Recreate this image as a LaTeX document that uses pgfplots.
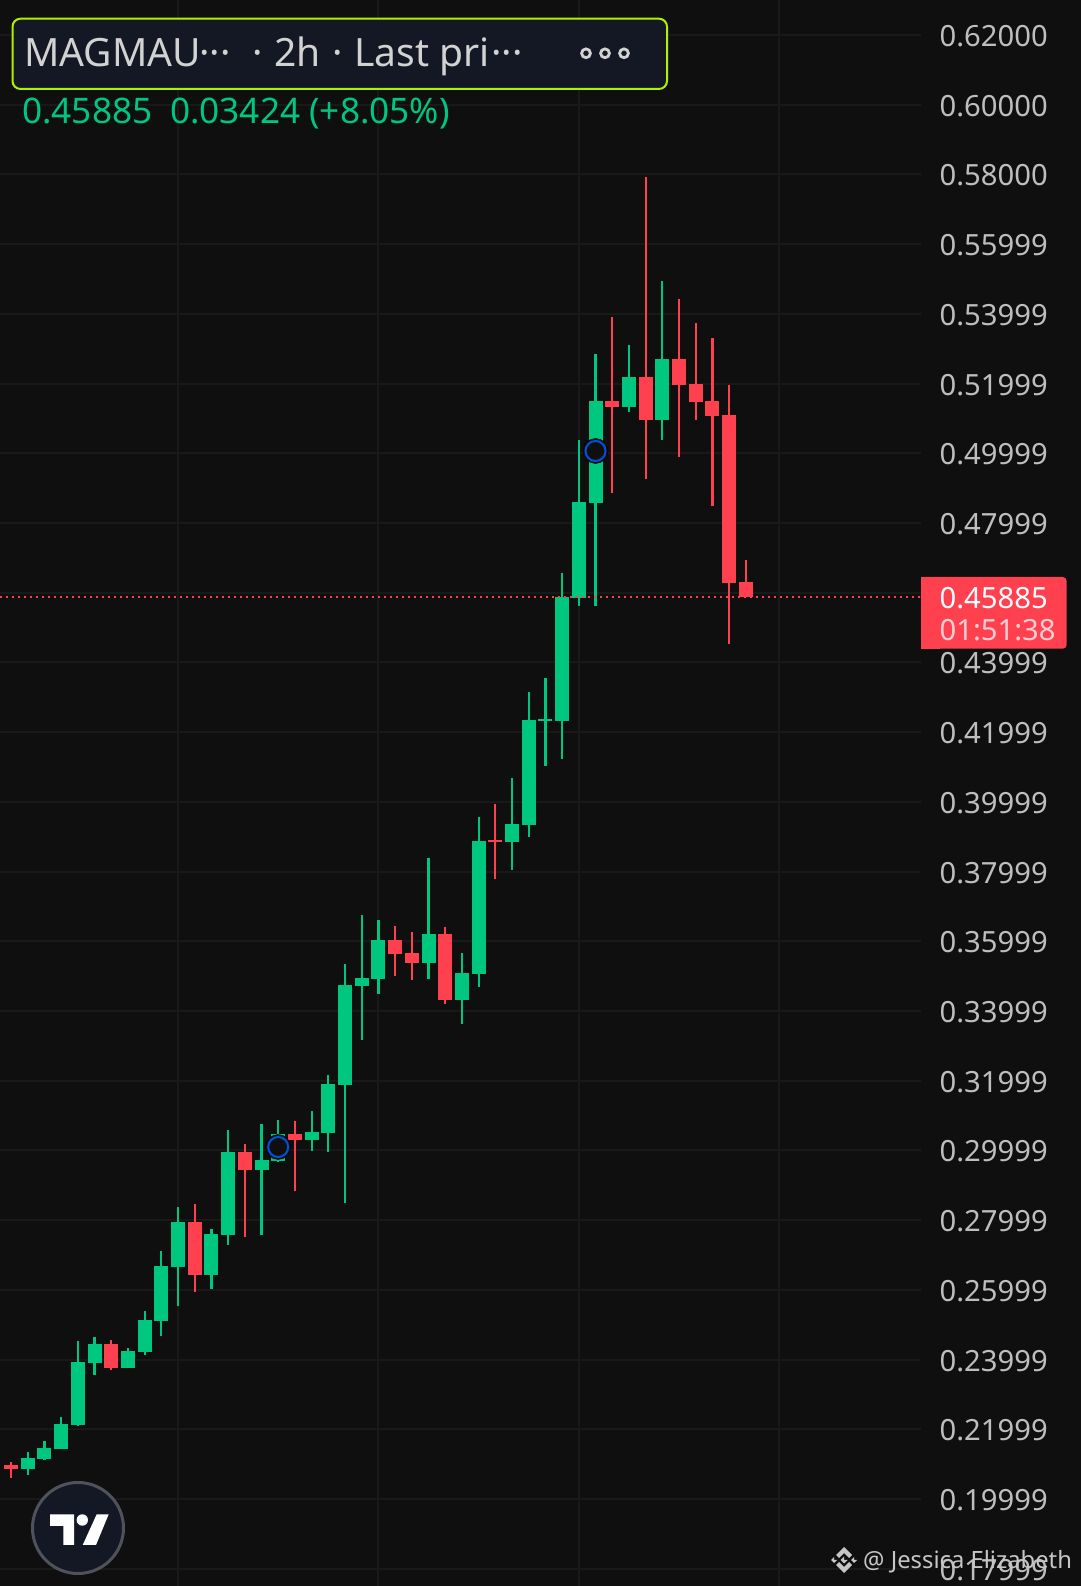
\documentclass[border=0pt]{standalone}
\usepackage{fontspec}
\setmainfont{Noto Sans}
\usepackage{pgfplots}
\usepackage{pgfplotstable}
\pgfplotsset{compat=1.18}
\definecolor{bg}{HTML}{0F0F0F}
\definecolor{gridc}{HTML}{191919}
\definecolor{cgreen}{HTML}{00C780}
\definecolor{cred}{HTML}{FF404F}
\definecolor{lab}{HTML}{BEBEBE}
\definecolor{panel}{HTML}{131824}
\definecolor{lime}{HTML}{B0F000}
\definecolor{evblue}{HTML}{0050E0}
\definecolor{hdr}{HTML}{D2D2D2}
\definecolor{wm}{HTML}{C6C6C6}
\pgfplotstableread{
i h t b l
1 .21348 .21175 .20860 .20688
2 .21663 .21462 .21147 .21118
3 .22352 .22151 .21434 .21434
4 .24532 .23930 .22122 .22094
5 .24647 .24446 .23901 .23557
7 .24331 .24245 .23758 .23758
8 .25393 .25135 .24217 .24131
9 .27114 .26684 .25106 .24676
10 .28376 .27946 .26655 .25536
12 .27745 .27602 .26426 .26024
13 .30586 .29954 .27573 .27286
15 .30758 .29725 .29438 .27573
16 .30872 .30471 .29696 .29668
18 .31131 .30528 .30299 .29983
19 .32163 .31905 .30499 .29954
20 .35348 .34745 .31876 .28491
21 .36754 .34946 .34717 .33168
22 .36610 .36036 .34918 .34487
25 .38389 .36209 .35377 .34918
27 .35663 .35090 .34315 .33627
28 .39565 .38877 .35061 .34688
30 .40684 .39364 .38848 .38045
31 .43151 .42348 .39336 .38991
32 .43553 .42377 .42319 .41028
33 .46565 .45885 .42319 .41229
34 .50381 .48602 .45848 .45619
35 .52848 .51500 .48574 .45619
37 .53106 .52188 .51328 .51184
39 .54942 .52705 .50955 .50381
}\greentable
\pgfplotstableread{
i h t b l
0 .21061 .20975 .20860 .20602
6 .24561 .24446 .23758 .23700
11 .28462 .27946 .26426 .25938
14 .30184 .29954 .29438 .27516
17 .30844 .30471 .30299 .28836
23 .36438 .36036 .35635 .35004
24 .36266 .35663 .35377 .34889
26 .36409 .36209 .34315 .34200
29 .39938 .38905 .38848 .37786
36 .53910 .51500 .51328 .48860
38 .57926 .52188 .50955 .49262
40 .54426 .52705 .51959 .49893
41 .53738 .51987 .51471 .50955
42 .53307 .51500 .51070 .48487
43 .51959 .51098 .46278 .44528
44 .46938 .46307 .45885 .45885
}\redtable
\pgfplotsset{
  wick/.style={draw=none,mark=none,forget plot,
    error bars/.cd,y dir=minus,y explicit,error mark=none,
    error bar style={line width=2.2pt,draw=#1}},
  body/.style={draw=none,mark=none,forget plot,
    error bars/.cd,y dir=minus,y explicit,error mark=none,
    error bar style={line width=14pt,draw=#1}},
}
\begin{document}
\begin{tikzpicture}
\useasboundingbox (0,0) rectangle (1080pt,1586pt);
\fill[bg] (-3pt,-3pt) rectangle (1083pt,1589pt);
\begin{axis}[
  at={(0,0)},anchor=south west,
  width=921pt,height=1586pt,scale only axis,
  xmin=-0.6587,xmax=54.491,
  ymin=0.17504,ymax=0.63004,
  axis line style={draw=none},
  major tick length=0pt,
  xtick={10,22,34,46},xticklabels={},
  ytick={0.18,0.20,0.22,0.24,0.26,0.28,0.30,0.32,0.34,0.36,0.38,0.40,0.42,0.44,0.46,0.48,0.50,0.52,0.54,0.56,0.58,0.60,0.62},
  yticklabels={0.17999,0.19999,0.21999,0.23999,0.25999,0.27999,0.29999,0.31999,0.33999,0.35999,0.37999,0.39999,0.41999,0.43999,0.45999,0.47999,0.49999,0.51999,0.53999,0.55999,0.58000,0.60000,0.62000},
  yticklabel pos=right,
  yticklabel style={anchor=west,inner sep=0pt,xshift=18.5pt,yshift=-1.2pt,text=lab,font=\fontsize{29.2}{34}\selectfont},
  grid=major,
  grid style={line width=2pt,draw=gridc},
]
\addplot[wick=cgreen] table[x=i,y=h,y error expr=\thisrow{h}-\thisrow{l}] {\greentable};
\addplot[body=cgreen] table[x=i,y=t,y error expr=\thisrow{t}-\thisrow{b}] {\greentable};
\addplot[wick=cred] table[x=i,y=h,y error expr=\thisrow{h}-\thisrow{l}] {\redtable};
\addplot[body=cred] table[x=i,y=t,y error expr=\thisrow{t}-\thisrow{b}] {\redtable};
% last price line
\addplot[cred,line width=2pt,dash pattern=on 2pt off 4pt,forget plot] coordinates {(-0.6587,0.45885)(54.491,0.45885)};
% event markers
\addplot[only marks,mark=*,mark size=12.5pt,mark options={fill=bg,draw=none},forget plot] coordinates {(16,0.30098)(35,0.50065)};
\addplot[only marks,mark=o,mark size=10pt,mark options={draw=evblue,line width=2pt},forget plot] coordinates {(16,0.30098)(35,0.50065)};
\end{axis}
\begin{scope}[x=1pt,y=-1pt,yshift=1586pt]
  % header
  \draw[fill=panel,draw=lime,line width=2pt,rounded corners=8pt] (12.5,18.7) rectangle (667,89);
  \begin{scope}[every node/.style={inner sep=0pt,anchor=base west,text=hdr,font=\fontsize{39}{44}\selectfont}]
    \node at (24,67) {MAGMAU};
    \node at (199,67) {···};
    \node at (252,67) {·};
    \node at (274,67) {2h};
    \node at (332,67) {·};
    \node at (354,67) {Last pri};
    \node at (491,67) {···};
  \end{scope}
  \foreach \cx in {586,605,624} \draw[hdr,line width=2.8pt] (\cx,53.3) circle (4.4);
  \node[inner sep=0pt,anchor=base west,text=cgreen,font=\fontsize{35.2}{40}\selectfont] at (22,124) {0.45885\hspace{0.5em}0.03424 (+8.05\%)};
  % last price box
  \fill[cred,rounded corners=4pt] (921,577) -- (1066.7,577) -- (1066.7,648.7) -- (921,648.7) -- cycle;
  \fill[cred] (921,577) rectangle (940,648.7);
  \node[inner sep=0pt,anchor=base west,text=white,font=\fontsize{29.2}{34}\selectfont] at (939.5,609) {0.45885};
  \node[inner sep=0pt,anchor=base west,text=white!75!cred,font=\fontsize{29.2}{34}\selectfont] at (939.5,641) {01:51:38};
  % TradingView badge
  \draw[fill=panel,draw=white!25!panel,line width=3pt] (78,1528) circle (45.5);
  \fill[white] (50,1514.3) -- (74,1514.3) -- (74,1545) -- (63.3,1545) -- (63.3,1526) -- (50,1526) -- cycle;
  \fill[white] (82.3,1520) circle (5.7);
  \fill[white] (96.7,1514.3) -- (108.7,1514.3) -- (96,1545) -- (82.7,1545) -- cycle;
  % watermark
  \fill[wm] (844,1560) -- +(3.5,0) -- +(0,3.5) -- +(-3.5,0) -- +(0,-3.5) -- cycle;
  \fill[wm] (834,1560) -- +(3,0) -- +(0,3) -- +(-3,0) -- +(0,-3) -- cycle;
  \fill[wm] (854,1560) -- +(3,0) -- +(0,3) -- +(-3,0) -- +(0,-3) -- cycle;
  \fill[wm] (844,1547) -- (852,1555) -- (849,1558) -- (844,1553) -- (839,1558) -- (836,1555) -- cycle;
  \fill[wm] (844,1573) -- (852,1565) -- (849,1562) -- (844,1567) -- (839,1562) -- (836,1565) -- cycle;
  \node[inner sep=0pt,anchor=base west,text=wm,font=\fontsize{23.8}{30}\selectfont] at (863,1569) {@ Jessica Elizabeth};
\end{scope}
\end{tikzpicture}
\end{document}
